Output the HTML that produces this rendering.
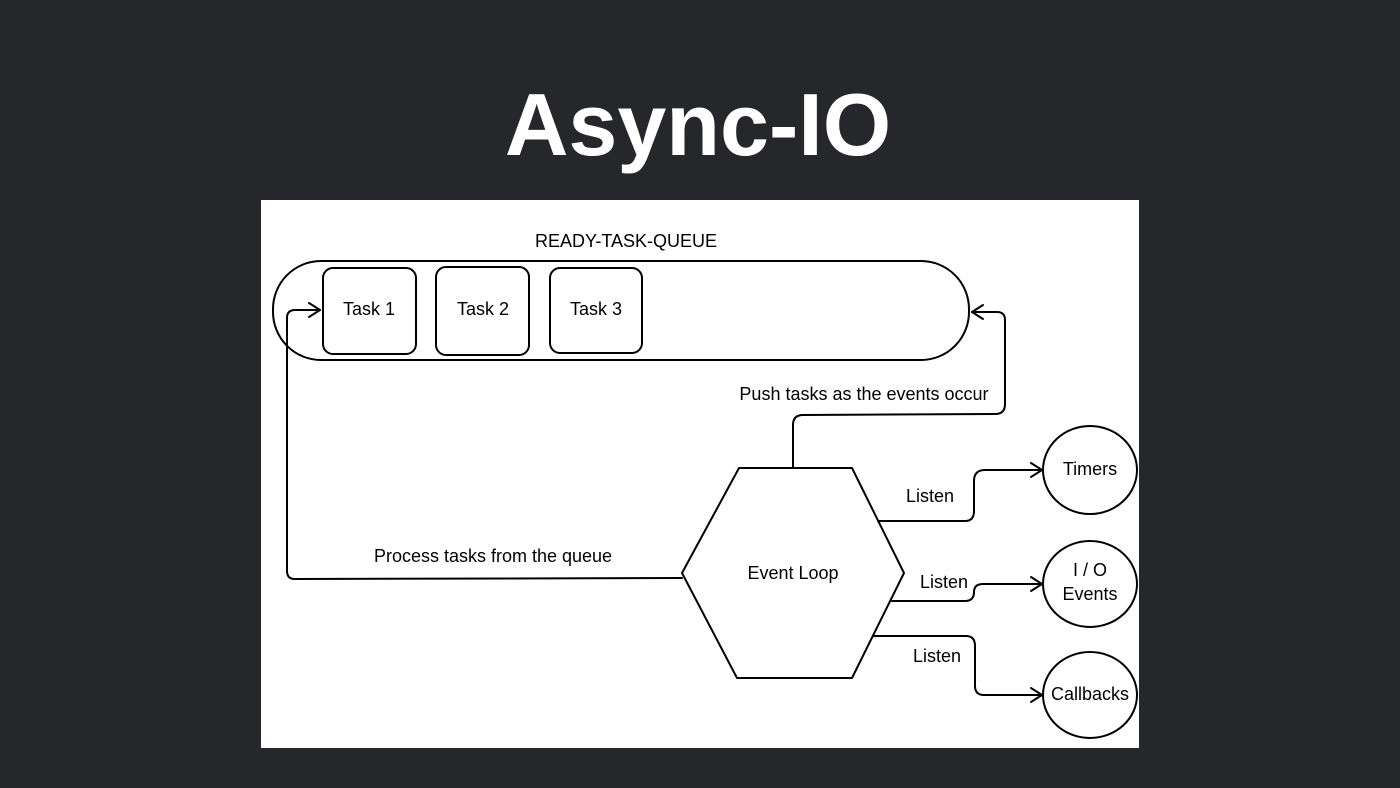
<!DOCTYPE html>
<html><head><style>
html,body{margin:0;padding:0;background:#26272b;width:1400px;height:788px;overflow:hidden}
</style></head><body>
<svg width="1400" height="788" xmlns="http://www.w3.org/2000/svg" style="position:absolute;left:0;top:0">
<text x="698" y="155" text-anchor="middle" font-family="Liberation Sans, sans-serif" font-weight="bold" font-size="88" fill="#fff">Async-IO</text>
<rect x="261" y="200" width="878" height="548" fill="#fff"/>
<g fill="none" stroke="#000" stroke-width="2" stroke-linejoin="round" stroke-linecap="round">
<rect x="273" y="261" width="696" height="99" rx="48"/>
<rect x="323" y="268" width="93" height="86" rx="10"/>
<rect x="436" y="267" width="93" height="88" rx="10"/>
<rect x="550" y="268" width="92" height="85" rx="10"/>
<path d="M739 468 L852 468 L904 573 L852 678 L737 678 L682 573 Z"/>
<ellipse cx="1090" cy="470" rx="47" ry="44"/>
<ellipse cx="1090" cy="584" rx="47" ry="43"/>
<ellipse cx="1090" cy="695" rx="47" ry="43"/>
<path d="M682 578 L295 579 Q287 579 287 571 L287 318 Q287 310 295 310 L320 310"/>
<path d="M309 303 L320 310 L309 317"/>
<path d="M793 467 L793 425 Q793 415 803 415 L995 414 Q1005 414 1005 404 L1005 320 Q1005 312 997 312 L972 312"/>
<path d="M983 305 L972 312 L983 319"/>
<path d="M878 521 L965 521 Q974 521 974 511 L974 481 Q974 470 985 470 L1042 470"/>
<path d="M1031 463 L1042 470 L1031 477"/>
<path d="M892 601 L965 601 Q974 601 974 592 Q974 584 983 584 L1042 584"/>
<path d="M1031 577 L1042 584 L1031 591"/>
<path d="M874 636 L966 636 Q975 636 975 646 L975 686 Q975 695 984 695 L1042 695"/>
<path d="M1031 688 L1042 695 L1031 702"/>
</g>
<g font-family="Liberation Sans, sans-serif" font-size="18" fill="#000" text-anchor="middle">
<text x="626" y="247">READY-TASK-QUEUE</text>
<text x="369" y="315">Task 1</text>
<text x="483" y="315">Task 2</text>
<text x="596" y="315">Task 3</text>
<text x="864" y="400">Push tasks as the events occur</text>
<text x="493" y="562">Process tasks from the queue</text>
<text x="793" y="579">Event Loop</text>
<text x="930" y="502">Listen</text>
<text x="944" y="588">Listen</text>
<text x="937" y="662">Listen</text>
<text x="1090" y="475">Timers</text>
<text x="1090" y="576">I / O</text>
<text x="1090" y="600">Events</text>
<text x="1090" y="700">Callbacks</text>
</g>
</svg>
</body></html>
